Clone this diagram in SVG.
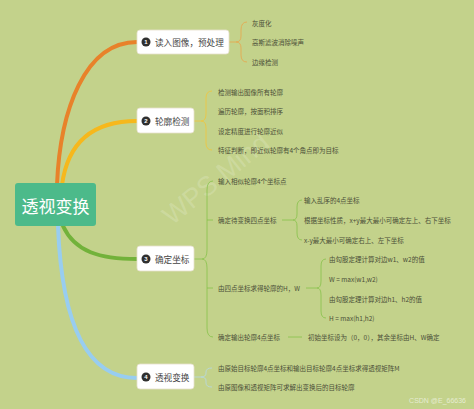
<svg xmlns="http://www.w3.org/2000/svg" width="474" height="409" viewBox="0 0 474 409">
<style>
.bg{fill:#c3d28b}
.sub{font-family:"Noto Sans CJK SC","Noto Sans",sans-serif;font-size:6.5px;fill:#4b4f38;dominant-baseline:central}
.btxt{font-family:"Noto Sans CJK SC","Noto Sans",sans-serif;font-size:8.6px;fill:#444;dominant-baseline:central}
.box{fill:#fff;stroke:#e6e0cc;stroke-width:0.8}
.num{fill:#2f2f2f}
.numt{font-family:"Liberation Sans",sans-serif;font-size:6px;fill:#fff;text-anchor:middle;dominant-baseline:central;font-weight:bold}
.main{fill:none;stroke-linecap:round}
.thin{fill:none;stroke-width:0.8}
</style>
<rect class="bg" x="0" y="0" width="474" height="409"/>
<text x="0" y="0" transform="translate(172,226) rotate(-39)" font-family="Liberation Sans,sans-serif" font-size="27" fill="#ffffff" fill-opacity="0.18">WPS Mind</text>
<g id="connectors">
<path class="main" d="M57,185 C60,110 85,42 137,42" stroke="#e8822a" stroke-width="4"/>
<path class="main" d="M62,185 C68,140 95,121 137,121" stroke="#f6b81c" stroke-width="4"/>
<path class="main" d="M63,226 C75,252 100,259 137,259" stroke="#72b23a" stroke-width="4"/>
<path class="main" d="M58,226 C62,330 90,378 137,378" stroke="#98cdf0" stroke-width="4"/>
<g stroke="#e9a44a" class="thin">
<path d="M229,42 H236"/>
<path d="M247,22 Q241,22 241,30 V36 Q241,42 236,42 Q241,42 241,48 V55 Q241,62 247,62"/>
</g>
<g stroke="#f2c43a" class="thin">
<path d="M194,121 H201"/>
<path d="M212,91 Q206,91 206,98 V114 Q206,121 201,121 Q206,121 206,128 V143 Q206,150 212,150"/>
</g>
<g stroke="#86c24a" class="thin">
<path d="M194,259 H202"/>
<path d="M213,181 Q207,181 207,190 V250 Q207,259 202,259 Q207,259 207,268 V328 Q207,337 213,337"/>
<path d="M207,220 H213"/>
<path d="M207,288 H213"/>
<path d="M282,220 H293"/>
<path d="M302,200 Q297,200 297,207 V214 Q297,220 293,220 Q297,220 297,226 V233 Q297,240 302,240"/>
<path d="M306,288 H317"/>
<path d="M326,259 Q321,259 321,266 V281 Q321,288 317,288 Q321,288 321,295 V311 Q321,318 326,318"/>
<path d="M288,337 H302"/>
</g>
<g stroke="#b6d8e6" class="thin">
<path d="M194,377 H201"/>
<path d="M212,368 Q206,368 206,372 V373 Q206,377 201,377 Q206,377 206,381 V383 Q206,387 212,387"/>
</g>
</g>
<g id="root">
<rect x="15" y="183" width="81" height="43" rx="3" fill="#4cba8a"/>
<text x="55.5" y="205" font-family="Noto Sans CJK SC,sans-serif" font-size="17" fill="#fff" text-anchor="middle" dominant-baseline="central">透视变换</text>
</g>
<g id="b1">
<rect class="box" x="137" y="30" width="92" height="24" rx="3" stroke="#ead2a8"/>
<circle class="num" cx="146" cy="42" r="4.5"/><text class="numt" x="146" y="42">1</text>
<text class="btxt" x="155" y="42">读入图像，预处理</text>
</g>
<g id="b1-items">
<text class="sub" x="252" y="23">灰度化</text>
<text class="sub" x="252" y="42">高斯滤波消除噪声</text>
<text class="sub" x="252" y="62">边缘检测</text>
</g>
<g id="b2">
<rect class="box" x="137" y="108" width="57" height="25" rx="3"/>
<circle class="num" cx="146" cy="121" r="4.5"/><text class="numt" x="146" y="121">2</text>
<text class="btxt" x="155" y="121">轮廓检测</text>
</g>
<g id="b2-items">
<text class="sub" x="218" y="92">检测输出图像所有轮廓</text>
<text class="sub" x="218" y="111">遍历轮廓，按面积排序</text>
<text class="sub" x="218" y="131">设定精度进行轮廓近似</text>
<text class="sub" x="218" y="150">特征判断，即近似轮廓有4个角点即为目标</text>
</g>
<g id="b3">
<rect class="box" x="137" y="246" width="57" height="25" rx="3"/>
<circle class="num" cx="146" cy="259" r="4.5"/><text class="numt" x="146" y="259">3</text>
<text class="btxt" x="155" y="259">确定坐标</text>
</g>
<g id="b3-items">
<text class="sub" x="218" y="181">输入相似轮廓4个坐标点</text>
<text class="sub" x="218" y="220">确定待变换四点坐标</text>
<text class="sub" x="304" y="200">输入乱序的4点坐标</text>
<text class="sub" x="304" y="220">根据坐标性质，x+y最大最小可确定左上、右下坐标</text>
<text class="sub" x="304" y="240">x-y最大最小可确定右上、左下坐标</text>
<text class="sub" x="218" y="288">由四点坐标求得轮廓的H，W</text>
<text class="sub" x="329" y="259">由勾股定理计算对边w1、w2的值</text>
<text class="sub" x="329" y="279">W = max(w1,w2)</text>
<text class="sub" x="329" y="299">由勾股定理计算对边h1、h2的值</text>
<text class="sub" x="329" y="318">H = max(h1,h2)</text>
<text class="sub" x="218" y="337">确定输出轮廓4点坐标</text>
<text class="sub" x="308" y="337">初始坐标设为（0，0），其余坐标由H、W确定</text>
</g>
<g id="b4">
<rect class="box" x="137" y="364" width="57" height="25" rx="3"/>
<circle class="num" cx="146" cy="377" r="4.5"/><text class="numt" x="146" y="377">4</text>
<text class="btxt" x="155" y="377">透视变换</text>
</g>
<g id="b4-items">
<text class="sub" x="218" y="368">由原始目标轮廓4点坐标和输出目标轮廓4点坐标求得透视矩阵M</text>
<text class="sub" x="218" y="387">由原图像和透视矩阵可求解出变换后的目标轮廓</text>
</g>
<text x="466" y="400" font-family="Liberation Sans,sans-serif" font-size="7" fill="#ffffff" fill-opacity="0.6" text-anchor="end" dominant-baseline="central">CSDN @E_66636</text>
</svg>
